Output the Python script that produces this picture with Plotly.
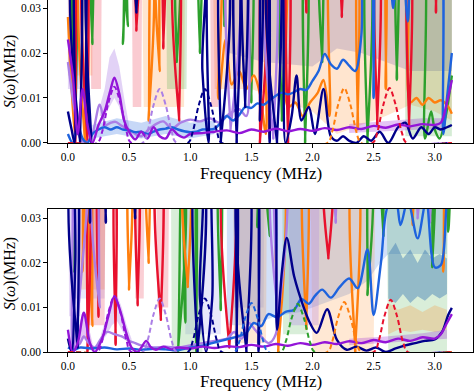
import plotly.graph_objects as go

# ---------------- colours ----------------
GREEN = '#2ca02c'
ORANGE = '#ff7f0e'
RED = '#e8112d'
NAVY = '#00008b'
BLUE = '#1e63de'
PURPLE = '#9315d8'
LPURPLE = '#ab7fe6'

x_ticks = [0.0, 0.5, 1.0, 1.5, 2.0, 2.5, 3.0]
x_tick_text = ['0.0', '0.5', '1.0', '1.5', '2.0', '2.5', '3.0']
y_ticks = [0.0, 0.01, 0.02, 0.03]
y_tick_text = ['0.00', '0.01', '0.02', '0.03']

# ================= TOP PANEL =================
top_green_f = [0.0, 0.04, 0.06, 0.08, 0.17, 0.2, 0.23, 0.42, 0.45, 0.47, 0.49, 0.51, 0.86, 0.89, 0.92, 1.05, 1.08, 1.11, 1.25, 1.28, 1.31, 1.46, 1.5, 1.54, 1.72, 1.75, 1.78, 1.91, 1.94, 1.97, 2.05, 2.08, 2.11, 2.41, 2.45, 2.49, 2.65, 2.69, 2.73, 2.87, 2.92, 2.97, 3.0, 3.04, 3.09, 3.14]
top_green_s = [0.05, 0.05, 0.002, 0.05, 0.05, 0.022, 0.05, 0.05, 0.022, 0.05, 0.026, 0.05, 0.05, 0.018, 0.05, 0.05, 0.02, 0.05, 0.05, 0.026, 0.05, 0.05, 0.009, 0.05, 0.05, 0.005, 0.05, 0.05, 0.0, 0.05, 0.05, 0.018, 0.05, 0.05, 0.0, 0.05, 0.05, 0.014, 0.05, 0.05, 0.001, 0.007, 0.003, 0.001, 0.006, 0.015]

top_orange_f = [0.0, 0.03, 0.06, 0.09, 0.12, 0.14, 0.17, 0.62, 0.66, 0.7, 0.72, 0.75, 0.78, 1.18, 1.23, 1.29, 1.34, 1.4, 1.46, 1.52, 1.57, 1.62, 1.66, 1.76, 1.8, 1.86, 1.92, 1.98, 2.04, 2.09, 2.14, 2.18, 2.32, 2.37, 2.42, 2.55, 2.6, 2.65, 2.75, 2.8, 2.85, 2.9, 2.95, 3.0, 3.05, 3.1, 3.14]
top_orange_s = [0.028, 0.012, 0.002, 0.05, 0.05, 0.0, 0.05, 0.05, 0.005, 0.05, 0.05, 0.016, 0.05, 0.05, 0.0098, 0.023, 0.013, 0.016, 0.012, 0.015, 0.011, 0.002, 0.05, 0.05, 0.008, 0.009, 0.006, 0.009, 0.011, 0.014, 0.006, 0.05, 0.05, 0.003, 0.05, 0.05, 0.012, 0.05, 0.05, 0.009, 0.010, 0.0085, 0.010, 0.009, 0.0095, 0.0085, 0.0065]

top_red_f = [0.0, 0.03, 0.06, 0.09, 0.13, 0.16, 0.19, 0.53, 0.56, 0.59, 0.75, 0.78, 0.81, 0.88, 0.91, 0.94, 1.54, 1.57, 1.6, 1.62, 1.65, 1.68, 1.77, 1.8, 1.83, 1.92, 1.95, 1.98, 2.21, 2.24, 2.27, 2.49, 2.53, 2.57, 2.75, 2.79, 2.83, 2.98, 3.01, 3.04, 3.14]
top_red_s = [0.05, 0.05, 0.0, 0.05, 0.05, 0.0, 0.05, 0.05, 0.025, 0.05, 0.05, 0.021, 0.05, 0.05, 0.005, 0.05, 0.05, 0.0, 0.05, 0.05, 0.001, 0.05, 0.05, 0.0, 0.05, 0.05, 0.029, 0.05, 0.05, 0.028, 0.05, 0.05, 0.004, 0.05, 0.05, 0.003, 0.05, 0.05, 0.029, 0.05, 0.05]

top_navy_f = [0.0, 0.03, 0.055, 0.08, 0.12, 0.15, 0.17, 0.19, 0.22, 0.53, 0.56, 0.59, 1.06, 1.1, 1.15, 1.2, 1.35, 1.38, 1.41, 1.54, 1.57, 1.6, 1.62, 1.65, 1.68, 1.72, 1.78, 1.83, 1.87, 1.91, 1.97, 2.02, 2.09, 2.15, 2.2, 2.25, 2.3, 2.36, 2.42, 2.48, 2.55, 2.62, 2.7, 2.76, 2.82, 2.89, 2.95, 3.0, 3.05, 3.1, 3.14]
top_navy_s = [0.007, 0.003, 0.0, 0.05, 0.05, 0.012, 0.006, 0.0, 0.05, 0.05, 0.029, 0.05, 0.05, 0.016, 0.0, 0.05, 0.05, 0.0, 0.05, 0.05, 0.005, 0.05, 0.05, 0.0, 0.05, 0.05, 0.0, 0.006, 0.015, 0.005, 0.008, 0.002, 0.012, 0.0015, 0.0005, 0.0015, 0.0005, 0.0, 0.0015, 0.0005, 0.0025, 0.0, 0.0035, 0.0045, 0.001, 0.0035, 0.002, 0.0035, 0.003, 0.0035, 0.004]
top_navy2_f = [0.0, 0.07, 0.1, 0.13, 1.21, 1.25, 1.29, 1.42, 1.45, 1.48, 1.68, 1.71, 1.74, 3.14]
top_navy2_s = [0.05, 0.05, 0.0, 0.05, 0.05, 0.0, 0.05, 0.05, 0.008, 0.05, 0.05, 0.0, 0.05, 0.05]

top_blue_f = [0.0, 0.04, 0.08, 0.12, 0.16, 0.2, 0.25, 0.3, 0.35, 0.4, 0.45, 0.5, 0.55, 0.6, 0.65, 0.7, 0.75, 0.8, 0.85, 0.9, 0.95, 1.0, 1.05, 1.1, 1.15, 1.2, 1.25, 1.3, 1.35, 1.4, 1.45, 1.5, 1.55, 1.6, 1.65, 1.7, 1.75, 1.8, 1.85, 1.9, 1.95, 2.0, 2.05, 2.1, 2.15, 2.2, 2.25, 2.3, 2.35, 2.4, 2.43, 2.47, 2.5, 2.54, 2.6, 2.66, 2.72, 2.78, 2.84, 2.92, 2.98, 3.03, 3.07, 3.1, 3.14]
top_blue_s = [0.002, 0.0, 0.004, 0.001, 0.0, 0.002, 0.003, 0.0035, 0.003, 0.0035, 0.003, 0.0028, 0.0024, 0.0025, 0.002, 0.0025, 0.003, 0.0032, 0.0035, 0.003, 0.0026, 0.0024, 0.0025, 0.003, 0.003, 0.0032, 0.0045, 0.006, 0.005, 0.0062, 0.008, 0.0078, 0.0088, 0.0085, 0.0095, 0.0105, 0.0112, 0.0108, 0.0113, 0.012, 0.0118, 0.0138, 0.016, 0.0198, 0.0175, 0.0165, 0.0185, 0.0172, 0.016, 0.024, 0.05, 0.05, 0.01, 0.05, 0.05, 0.03, 0.05, 0.027, 0.05, 0.05, 0.05, 0.05, 0.002, 0.01, 0.02]

top_purple_f = [0.0, 0.04, 0.08, 0.12, 0.16, 0.2, 0.25, 0.3, 0.35, 0.38, 0.42, 0.46, 0.5, 0.55, 0.6, 0.65, 0.7, 0.75, 0.8, 0.85, 0.9, 0.95, 1.0, 1.1, 1.2, 1.3, 1.4, 1.5, 1.6, 1.7, 1.8, 1.9, 2.0, 2.1, 2.2, 2.3, 2.4, 2.5, 2.6, 2.7, 2.8, 2.9, 3.0, 3.05, 3.1, 3.14]
top_purple_s = [0.023, 0.015, 0.002, 0.012, 0.004, 0.0, 0.004, 0.007, 0.012, 0.0145, 0.011, 0.005, 0.0025, 0.0008, 0.0025, 0.001, 0.0035, 0.0015, 0.001, 0.003, 0.0018, 0.0012, 0.002, 0.0022, 0.0025, 0.0028, 0.0022, 0.003, 0.0025, 0.0032, 0.0026, 0.0031, 0.0027, 0.0033, 0.0029, 0.0035, 0.0031, 0.0038, 0.0034, 0.0041, 0.0037, 0.0042, 0.004, 0.0045, 0.009, 0.014]

top_lpurple_f = [0.0, 0.05, 0.1, 0.15, 0.2, 0.26, 0.31, 0.35, 0.39, 0.44, 0.5, 0.55, 0.6, 0.66, 0.72, 0.78, 0.85, 0.92, 1.0, 1.08, 1.16, 1.24, 1.32, 1.4, 1.46, 1.5, 1.54, 3.14]
top_lpurple_s = [0.018, 0.008, 0.001, 0.0, 0.002, 0.0085, 0.004, 0.0045, 0.0047, 0.0038, 0.003, 0.002, 0.0015, 0.003, 0.0042, 0.0048, 0.0032, 0.0045, 0.0052, 0.0048, 0.0055, 0.0045, 0.0065, 0.0075, 0.006, 0.05, 0.05, 0.05]
top_lpurple2_f = [0.0, 1.3, 1.33, 1.36, 1.64, 1.68, 1.72, 3.14]
top_lpurple2_s = [0.05, 0.05, 0.003, 0.05, 0.05, 0.001, 0.05, 0.05]

# dashed reference peaks (top)
top_purple_dash_f = [0.0, 0.24, 0.28, 0.33, 0.38, 0.43, 0.48, 0.52, 3.14]
top_purple_dash_s = [0.0, 0.0, 0.0025, 0.0088, 0.0125, 0.0088, 0.0025, 0.0, 0.0]
top_lpurple_dash_f = [0.0, 0.61, 0.65, 0.7, 0.75, 0.8, 0.85, 0.89, 3.14]
top_lpurple_dash_s = [0.0, 0.0, 0.0024, 0.0084, 0.012, 0.0084, 0.0024, 0.0, 0.0]
top_navy_dash_f = [0.0, 0.98, 1.02, 1.07, 1.12, 1.17, 1.22, 1.26, 3.14]
top_navy_dash_s = [0.0, 0.0, 0.0024, 0.0084, 0.012, 0.0084, 0.0024, 0.0, 0.0]
top_orange_dash_f = [0.0, 2.12, 2.16, 2.21, 2.26, 2.31, 2.36, 2.4, 3.14]
top_orange_dash_s = [0.0, 0.0, 0.0024, 0.0085, 0.0122, 0.0085, 0.0024, 0.0, 0.0]
top_red_dash_f = [0.0, 2.49, 2.53, 2.58, 2.63, 2.68, 2.73, 2.77, 3.14]
top_red_dash_s = [0.0, 0.0, 0.0024, 0.0085, 0.0122, 0.0085, 0.0024, 0.0, 0.0]

# shaded bands (top) ; bands without an upper list run off the top
top_orange_band_f = [0.0, 0.2, 0.2, 0.6, 0.62, 0.95, 0.96, 1.18, 1.2, 1.5, 1.8, 2.0, 2.2, 2.4, 2.6, 2.8, 3.0, 3.14]
top_orange_band_lo = [0.015, 0.015, 0.05, 0.05, 0.008, 0.008, 0.05, 0.05, 0.012, 0.012, 0.009, 0.007, 0.002, 0.004, 0.006, 0.0085, 0.007, 0.005]
top_grey_band_f = [1.3, 1.32, 1.6, 2.0, 2.2, 2.4, 2.6, 2.8, 3.0, 3.14]
top_grey_band_lo = [0.05, 0.02, 0.018, 0.017, 0.021, 0.02, 0.018, 0.016, 0.016, 0.016]
top_green_band_f = [0.8, 0.81, 0.97, 0.98, 2.75, 2.76, 3.14]
top_green_band_lo = [0.05, 0.012, 0.012, 0.05, 0.05, 0.0015, 0.0015]
top_pink_band_f = [0.18, 0.19, 0.27, 0.28, 0.52, 0.53, 0.6, 0.61, 1.16, 1.17, 1.23, 1.24]
top_pink_band_lo = [0.05, 0.012, 0.012, 0.05, 0.05, 0.008, 0.008, 0.05, 0.05, 0.008, 0.008, 0.05]
top_lav_band_f = [0.0, 0.1]
top_lav_band_lo = [0.012, 0.012]
top_lpurple_band_f = [0.26, 0.3, 0.34, 0.38, 0.42, 0.46, 0.5]
top_lpurple_band_lo = [0.006, 0.006, 0.008, 0.01, 0.008, 0.004, 0.002]
top_lpurple_band_hi = [0.008, 0.012, 0.019, 0.021, 0.017, 0.01, 0.004]
top_blue_band_f = [0.2, 0.4, 0.6, 0.8, 1.0, 1.2]
top_blue_band_lo = [0.001, 0.002, 0.001, 0.002, 0.001, 0.002]
top_blue_band_hi = [0.004, 0.0055, 0.0045, 0.006, 0.0045, 0.005]
top_violet_band_f = [2.3, 2.6, 2.9, 3.08]
top_violet_band_lo = [0.0022, 0.0026, 0.003, 0.003]
top_violet_band_hi = [0.0042, 0.0048, 0.0055, 0.0055]

# ================= BOTTOM PANEL =================
bot_purple_f = [0.0, 0.04, 0.08, 0.13, 0.18, 0.22, 0.28, 0.33, 0.38, 0.43, 0.48, 0.52, 0.57, 0.6, 0.64, 0.68, 0.72, 0.78, 0.85, 0.9, 1.0, 1.1, 1.2, 1.3, 1.4, 1.5, 1.6, 1.7, 1.8, 1.9, 2.0, 2.1, 2.2, 2.3, 2.4, 2.5, 2.6, 2.7, 2.8, 2.9, 3.0, 3.05, 3.1, 3.14]
bot_purple_s = [0.005, 0.0, 0.002, 0.0088, 0.002, 0.0, 0.003, 0.008, 0.0125, 0.009, 0.004, 0.001, 0.0, 0.001, 0.0025, 0.001, 0.0005, 0.0012, 0.0006, 0.001, 0.0008, 0.0012, 0.0009, 0.0013, 0.0011, 0.0016, 0.0012, 0.0018, 0.0014, 0.002, 0.0016, 0.0022, 0.0018, 0.0024, 0.002, 0.0027, 0.0022, 0.003, 0.0025, 0.0033, 0.003, 0.004, 0.0065, 0.0085]

bot_navy_f = [0.0, 0.03, 0.06, 0.09, 0.15, 0.18, 0.21, 0.28, 0.31, 0.34, 0.52, 0.55, 0.58, 1.03, 1.08, 1.13, 1.18, 1.22, 1.33, 1.38, 1.43, 1.51, 1.56, 1.61, 1.66, 1.71, 1.75, 1.79, 1.85, 1.93, 1.98, 2.035, 2.12, 2.2, 2.28, 2.36, 2.44, 2.52, 2.6, 2.68, 2.76, 2.84, 2.92, 3.0, 3.06, 3.11, 3.14]
bot_navy_s = [0.003, 0.0, 0.02, 0.05, 0.05, 0.029, 0.05, 0.05, 0.029, 0.05, 0.05, 0.030, 0.05, 0.05, 0.012, 0.0, 0.012, 0.05, 0.05, 0.0, 0.05, 0.05, 0.0, 0.05, 0.05, 0.005, 0.018, 0.0256, 0.017, 0.0099, 0.0065, 0.0043, 0.0096, 0.0027, 0.0005, 0.0012, 0.0003, 0.001, 0.0, 0.0008, 0.0015, 0.002, 0.0025, 0.0028, 0.0045, 0.0083, 0.0099]
bot_navy2_f = [0.0, 0.05, 0.08, 0.11, 1.02, 1.06, 1.1, 1.42, 1.46, 1.5, 3.14]
bot_navy2_s = [0.05, 0.05, 0.001, 0.05, 0.05, 0.0, 0.05, 0.05, 0.0, 0.05, 0.05]

bot_blue_f = [0.0, 0.05, 0.1, 0.2, 0.3, 0.4, 0.5, 0.6, 0.7, 0.8, 0.9, 1.0, 1.1, 1.18, 1.25, 1.32, 1.39, 1.46, 1.52, 1.58, 1.64, 1.71, 1.78, 1.85, 1.91, 1.97, 2.02, 2.08, 2.15, 2.22, 2.3, 2.37, 2.45, 2.5, 2.56, 2.62, 2.68, 2.72, 2.78, 2.86, 2.93, 3.0, 3.05, 3.1, 3.14]
bot_blue_s = [0.001, 0.0005, 0.001, 0.0008, 0.001, 0.0006, 0.0008, 0.0005, 0.0007, 0.0006, 0.0004, 0.001, 0.0014, 0.002, 0.0025, 0.003, 0.0035, 0.0043, 0.0065, 0.0058, 0.0085, 0.0078, 0.009, 0.0095, 0.0119, 0.0108, 0.0126, 0.014, 0.0122, 0.0145, 0.0165, 0.0143, 0.023, 0.0083, 0.02, 0.033, 0.034, 0.0285, 0.034, 0.0255, 0.034, 0.019, 0.0195, 0.034, 0.04]

bot_lpurple_f = [0.0, 0.05, 0.1, 0.13, 0.17, 0.22, 0.27, 0.32, 0.38, 0.44, 0.5, 0.55, 0.6, 0.7, 0.8, 0.9, 1.0, 1.1, 1.2, 1.3, 1.36, 1.42, 1.48, 1.53, 1.58, 1.64, 1.7, 1.76, 2.15, 2.19, 2.23, 2.92, 2.96, 3.0, 3.14]
bot_lpurple_s = [0.003, 0.001, 0.002, 0.0035, 0.002, 0.001, 0.003, 0.0045, 0.004, 0.0035, 0.0025, 0.002, 0.0015, 0.001, 0.0012, 0.001, 0.0015, 0.002, 0.0025, 0.003, 0.0045, 0.003, 0.0065, 0.005, 0.0035, 0.002, 0.004, 0.05, 0.05, 0.029, 0.05, 0.05, 0.029, 0.05, 0.05]
bot_lpurple2_f = [0.0, 0.02, 0.04, 0.23, 0.26, 0.29, 1.69, 1.72, 1.75, 2.83, 2.86, 2.89, 3.14]
bot_lpurple2_s = [0.05, 0.05, 0.0, 0.05, 0.01, 0.05, 0.05, 0.008, 0.05, 0.05, 0.03, 0.05, 0.05]

bot_green_f = [0.0, 0.03, 0.05, 0.07, 0.1, 0.86, 0.9, 0.93, 0.96, 0.99, 1.02, 1.05, 1.08, 1.11, 1.21, 1.25, 1.29, 1.51, 1.55, 1.59, 1.62, 1.65, 1.68, 2.41, 2.45, 2.49, 2.55, 2.58, 2.61, 2.94, 2.98, 3.02, 3.08, 3.11, 3.14]
bot_green_s = [0.05, 0.05, 0.018, 0.05, 0.05, 0.05, 0.0, 0.05, 0.0066, 0.05, 0.05, 0.0, 0.05, 0.05, 0.05, 0.0094, 0.05, 0.05, 0.028, 0.05, 0.05, 0.026, 0.05, 0.05, 0.0128, 0.05, 0.05, 0.026, 0.05, 0.05, 0.019, 0.05, 0.05, 0.027, 0.05]

bot_orange_f = [0.0, 0.09, 0.12, 0.15, 0.17, 0.2, 0.23, 0.47, 0.5, 0.53, 0.63, 0.66, 0.69, 0.95, 0.98, 1.01, 1.68, 1.72, 1.76, 1.91, 1.95, 1.99, 2.31, 2.35, 2.39, 2.78, 2.82, 2.86, 3.03, 3.07, 3.11, 3.14]
bot_orange_s = [0.05, 0.05, 0.018, 0.05, 0.05, 0.0058, 0.05, 0.05, 0.014, 0.05, 0.05, 0.02, 0.05, 0.05, 0.0146, 0.05, 0.05, 0.0, 0.05, 0.05, 0.0052, 0.05, 0.05, 0.0, 0.05, 0.05, 0.0285, 0.05, 0.05, 0.018, 0.05, 0.05]

bot_red_f = [0.0, 0.13, 0.16, 0.19, 0.22, 0.25, 0.28, 0.35, 0.39, 0.43, 0.54, 0.57, 0.6, 0.73, 0.76, 0.79, 1.29, 1.32, 1.35, 2.1, 2.13, 2.16, 3.14]
bot_red_s = [0.05, 0.05, 0.0, 0.05, 0.05, 0.0079, 0.05, 0.05, 0.0016, 0.05, 0.05, 0.0105, 0.05, 0.05, 0.0072, 0.05, 0.05, 0.001, 0.05, 0.05, 0.021, 0.05, 0.05]

# dashed reference peaks (bottom)
bot_purple_dash_f = [0.0, 0.24, 0.28, 0.33, 0.38, 0.43, 0.48, 0.52, 3.14]
bot_purple_dash_s = [0.0, 0.0, 0.0025, 0.0088, 0.0125, 0.0088, 0.0025, 0.0, 0.0]
bot_lpurple_dash_f = [0.0, 0.61, 0.65, 0.7, 0.75, 0.8, 0.85, 0.89, 3.14]
bot_lpurple_dash_s = [0.0, 0.0, 0.0024, 0.0084, 0.012, 0.0084, 0.0024, 0.0, 0.0]
bot_navy_dash_f = [0.0, 0.98, 1.02, 1.07, 1.12, 1.17, 1.22, 1.26, 3.14]
bot_navy_dash_s = [0.0, 0.0, 0.0024, 0.0084, 0.012, 0.0084, 0.0024, 0.0, 0.0]
bot_blue_dash_f = [0.0, 1.36, 1.4, 1.45, 1.5, 1.55, 1.6, 1.64, 3.14]
bot_blue_dash_s = [0.0, 0.0, 0.0022, 0.0077, 0.011, 0.0077, 0.0022, 0.0, 0.0]
bot_green_dash_f = [0.0, 1.74, 1.78, 1.83, 1.88, 1.93, 1.98, 2.02, 3.14]
bot_green_dash_s = [0.0, 0.0, 0.0022, 0.0076, 0.0108, 0.0076, 0.0022, 0.0, 0.0]
bot_orange_dash_f = [0.0, 2.12, 2.16, 2.21, 2.26, 2.31, 2.36, 2.4, 3.14]
bot_orange_dash_s = [0.0, 0.0, 0.0022, 0.0078, 0.0112, 0.0078, 0.0022, 0.0, 0.0]
bot_red_dash_f = [0.0, 2.5, 2.54, 2.59, 2.64, 2.69, 2.74, 2.78, 3.14]
bot_red_dash_s = [0.0, 0.0, 0.0023, 0.0082, 0.0117, 0.0082, 0.0023, 0.0, 0.0]

# shaded bands (bottom)
bot_navy_band_f = [0.04, 0.05, 0.3, 0.31, 0.95, 0.96, 1.25, 1.26, 1.35, 1.36, 1.6, 1.61]
bot_navy_band_lo = [0.05, 0.012, 0.012, 0.05, 0.05, 0.004, 0.004, 0.05, 0.05, 0.01, 0.01, 0.05]
bot_blue_band_f = [1.3, 1.5, 1.7, 1.9, 2.1, 2.3, 2.45, 2.55, 2.62, 3.1, 3.11]
bot_blue_band_lo = [0.006, 0.006, 0.008, 0.009, 0.011, 0.013, 0.016, 0.02, 0.022, 0.022, 0.05]
bot_steel_band_f = [2.62, 2.68, 2.74, 2.8, 2.86, 2.92, 2.98, 3.04, 3.1]
bot_steel_band_lo = [0.012, 0.011, 0.013, 0.011, 0.0125, 0.0115, 0.013, 0.012, 0.013]
bot_steel_band_hi = [0.022, 0.0245, 0.021, 0.023, 0.02, 0.023, 0.021, 0.022, 0.021]
bot_green_band_f = [0.84, 0.85, 1.1, 1.11, 1.75, 1.76, 1.96, 1.97, 2.6, 2.62, 3.1, 3.11]
bot_green_band_lo = [0.05, 0.0, 0.0, 0.05, 0.05, 0.004, 0.004, 0.05, 0.05, 0.0, 0.0, 0.05]
bot_orange_band_f = [0.08, 0.09, 0.3, 0.31, 1.35, 1.36, 1.62, 1.63, 1.98, 2.0, 2.5, 2.52]
bot_orange_band_lo = [0.05, 0.014, 0.014, 0.05, 0.05, 0.002, 0.002, 0.05, 0.05, 0.0, 0.0, 0.05]
bot_tan_band_f = [2.62, 2.7, 2.8, 2.9, 3.0, 3.1]
bot_tan_band_lo = [0.004, 0.005, 0.0045, 0.005, 0.0045, 0.005]
bot_tan_band_hi = [0.011, 0.0095, 0.0105, 0.009, 0.0105, 0.0095]
bot_pink_band_f = [0.14, 0.15, 0.3, 0.31, 0.54, 0.55, 0.62, 0.63, 0.72, 0.73, 0.82, 0.83]
bot_pink_band_lo = [0.05, 0.006, 0.006, 0.05, 0.05, 0.012, 0.012, 0.05, 0.05, 0.01, 0.01, 0.05]
bot_lav_band_f = [0.0, 0.01, 0.1, 0.11, 1.8, 1.81, 2.05, 2.06]
bot_lav_band_lo = [0.05, 0.008, 0.008, 0.05, 0.05, 0.006, 0.006, 0.05]
bot_lpurple_band_f = [0.27, 0.32, 0.36, 0.4, 0.44, 0.48, 0.52]
bot_lpurple_band_lo = [0.002, 0.004, 0.006, 0.007, 0.005, 0.003, 0.001]
bot_lpurple_band_hi = [0.004, 0.008, 0.012, 0.013, 0.01, 0.006, 0.003]
bot_purple_band_f = [0.06, 0.1, 0.13, 0.16, 0.2]
bot_purple_band_lo = [0.0, 0.002, 0.003, 0.002, 0.0]
bot_purple_band_hi = [0.002, 0.007, 0.009, 0.007, 0.002]
bot_violet_band_f = [2.3, 2.6, 2.9, 3.1]
bot_violet_band_lo = [0.0015, 0.002, 0.0025, 0.003]
bot_violet_band_hi = [0.003, 0.0035, 0.0042, 0.005]

CEIL = 0.05


def rgba(hexc, a):
    h = hexc.lstrip('#')
    r, g, b = int(h[0:2], 16), int(h[2:4], 16), int(h[4:6], 16)
    return f'rgba({r},{g},{b},{a})'


fig = go.Figure()


def band(f, lo, hi, color, alpha, ax):
    if hi is None:
        hi = [CEIL] * len(f)
    fig.add_trace(go.Scatter(
        x=list(f) + list(f)[::-1], y=list(lo) + list(hi)[::-1],
        fill='toself', fillcolor=rgba(color, alpha), mode='lines',
        line=dict(width=0), hoverinfo='skip', showlegend=False,
        xaxis='x' + ax, yaxis='y' + ax))


def line(f, s, color, ax, dash=None, width=2.4):
    fig.add_trace(go.Scatter(
        x=f, y=s, mode='lines',
        line=dict(color=color, width=width, dash=dash, shape='spline', smoothing=0.9),
        hoverinfo='skip', showlegend=False, xaxis='x' + ax, yaxis='y' + ax))


DASH = '5px,3px'

# ---- top bands
band(top_orange_band_f, top_orange_band_lo, None, ORANGE, 0.2, '')
band(top_grey_band_f, top_grey_band_lo, None, NAVY, 0.14, '')
band(top_green_band_f, top_green_band_lo, None, GREEN, 0.2, '')
band(top_pink_band_f, top_pink_band_lo, None, RED, 0.22, '')
band(top_lav_band_f, top_lav_band_lo, None, LPURPLE, 0.3, '')
band(top_lpurple_band_f, top_lpurple_band_lo, top_lpurple_band_hi, LPURPLE, 0.35, '')
band(top_blue_band_f, top_blue_band_lo, top_blue_band_hi, BLUE, 0.25, '')
band(top_violet_band_f, top_violet_band_lo, top_violet_band_hi, PURPLE, 0.25, '')

# ---- top solid lines
line(top_green_f, top_green_s, GREEN, '')
line(top_orange_f, top_orange_s, ORANGE, '')
line(top_red_f, top_red_s, RED, '')
line(top_lpurple_f, top_lpurple_s, LPURPLE, '')
line(top_lpurple2_f, top_lpurple2_s, LPURPLE, '')
line(top_blue_f, top_blue_s, BLUE, '')
line(top_navy_f, top_navy_s, NAVY, '')
line(top_navy2_f, top_navy2_s, NAVY, '')
line(top_purple_f, top_purple_s, PURPLE, '')

# ---- top dashed
line(top_purple_dash_f, top_purple_dash_s, PURPLE, '', dash=DASH, width=2)
line(top_lpurple_dash_f, top_lpurple_dash_s, LPURPLE, '', dash=DASH, width=2)
line(top_navy_dash_f, top_navy_dash_s, NAVY, '', dash=DASH, width=2)
line(top_orange_dash_f, top_orange_dash_s, ORANGE, '', dash=DASH, width=2)
line(top_red_dash_f, top_red_dash_s, RED, '', dash=DASH, width=2)

# ---- bottom bands
band(bot_navy_band_f, bot_navy_band_lo, None, '#5a5ae6', 0.14, '2')
band(bot_blue_band_f, bot_blue_band_lo, None, BLUE, 0.2, '2')
band(bot_green_band_f, bot_green_band_lo, None, GREEN, 0.18, '2')
band(bot_orange_band_f, bot_orange_band_lo, None, ORANGE, 0.18, '2')
band(bot_pink_band_f, bot_pink_band_lo, None, RED, 0.2, '2')
band(bot_lav_band_f, bot_lav_band_lo, None, LPURPLE, 0.3, '2')
band(bot_steel_band_f, bot_steel_band_lo, bot_steel_band_hi, '#2b6cb0', 0.4, '2')
band(bot_tan_band_f, bot_tan_band_lo, bot_tan_band_hi, ORANGE, 0.22, '2')
band(bot_lpurple_band_f, bot_lpurple_band_lo, bot_lpurple_band_hi, LPURPLE, 0.35, '2')
band(bot_purple_band_f, bot_purple_band_lo, bot_purple_band_hi, PURPLE, 0.25, '2')
band(bot_violet_band_f, bot_violet_band_lo, bot_violet_band_hi, PURPLE, 0.25, '2')

# ---- bottom solid lines
line(bot_green_f, bot_green_s, GREEN, '2')
line(bot_orange_f, bot_orange_s, ORANGE, '2')
line(bot_red_f, bot_red_s, RED, '2')
line(bot_lpurple_f, bot_lpurple_s, LPURPLE, '2')
line(bot_lpurple2_f, bot_lpurple2_s, LPURPLE, '2')
line(bot_blue_f, bot_blue_s, BLUE, '2')
line(bot_navy_f, bot_navy_s, NAVY, '2')
line(bot_navy2_f, bot_navy2_s, NAVY, '2')
line(bot_purple_f, bot_purple_s, PURPLE, '2')

# ---- bottom dashed
line(bot_purple_dash_f, bot_purple_dash_s, PURPLE, '2', dash=DASH, width=2)
line(bot_lpurple_dash_f, bot_lpurple_dash_s, LPURPLE, '2', dash=DASH, width=2)
line(bot_navy_dash_f, bot_navy_dash_s, NAVY, '2', dash=DASH, width=2)
line(bot_blue_dash_f, bot_blue_dash_s, BLUE, '2', dash=DASH, width=2)
line(bot_green_dash_f, bot_green_dash_s, GREEN, '2', dash=DASH, width=2)
line(bot_orange_dash_f, bot_orange_dash_s, ORANGE, '2', dash=DASH, width=2)
line(bot_red_dash_f, bot_red_dash_s, RED, '2', dash=DASH, width=2)

SERIF = 'Liberation Serif, DejaVu Serif, serif'
tickfont = dict(family=SERIF, size=11.5, color='black')

common_x = dict(range=[-0.163, 3.313], tickvals=x_ticks, ticktext=x_tick_text,
                ticks='outside', ticklen=3.5, tickwidth=0.9, tickcolor='black',
                showline=True, linecolor='black', linewidth=1.2,
                showgrid=False, zeroline=False, tickfont=tickfont, fixedrange=True)
common_y = dict(tickvals=y_ticks, ticktext=y_tick_text,
                ticks='outside', ticklen=3.5, tickwidth=0.9, tickcolor='black',
                showline=True, linecolor='black', linewidth=1.2, mirror=True,
                showgrid=False, zeroline=False, tickfont=tickfont, fixedrange=True)

title_font = dict(family=SERIF, size=17, color='black')
ylab_font = dict(family=SERIF, size=16, color='black')

fig.update_layout(
    width=474, height=392,
    margin=dict(l=48, r=1, t=0, b=40, autoexpand=False),
    paper_bgcolor='white', plot_bgcolor='white',
    showlegend=False,
    xaxis=dict(anchor='y', domain=[0, 1], mirror=False, **common_x),
    yaxis=dict(anchor='x', domain=[0.5938, 1.0], range=[0, 0.03178], **common_y),
    xaxis2=dict(anchor='y2', domain=[0, 1], mirror=True, **common_x),
    yaxis2=dict(anchor='x2', domain=[0, 0.40625], range=[0, 0.03209], **common_y),
    annotations=[
        dict(text='Frequency (MHz)', x=0.5, y=0.5085, xref='paper', yref='paper',
             xanchor='center', yanchor='middle', showarrow=False, font=title_font),
        dict(text='Frequency (MHz)', x=0.5, y=-0.085, xref='paper', yref='paper',
             xanchor='center', yanchor='middle', showarrow=False, font=title_font),
        dict(text='<i>S</i>(<i>ω</i>)(MHz)', x=-0.089, y=0.798, xref='paper', yref='paper',
             xanchor='center', yanchor='middle', showarrow=False, textangle=-90, font=ylab_font),
        dict(text='<i>S</i>(<i>ω</i>)(MHz)', x=-0.089, y=0.224, xref='paper', yref='paper',
             xanchor='center', yanchor='middle', showarrow=False, textangle=-90, font=ylab_font),
    ],
)

fig.write_html('out.html', config=dict(displayModeBar=False),
               post_script="document.body.style.margin='0';document.body.style.overflow='hidden';")
